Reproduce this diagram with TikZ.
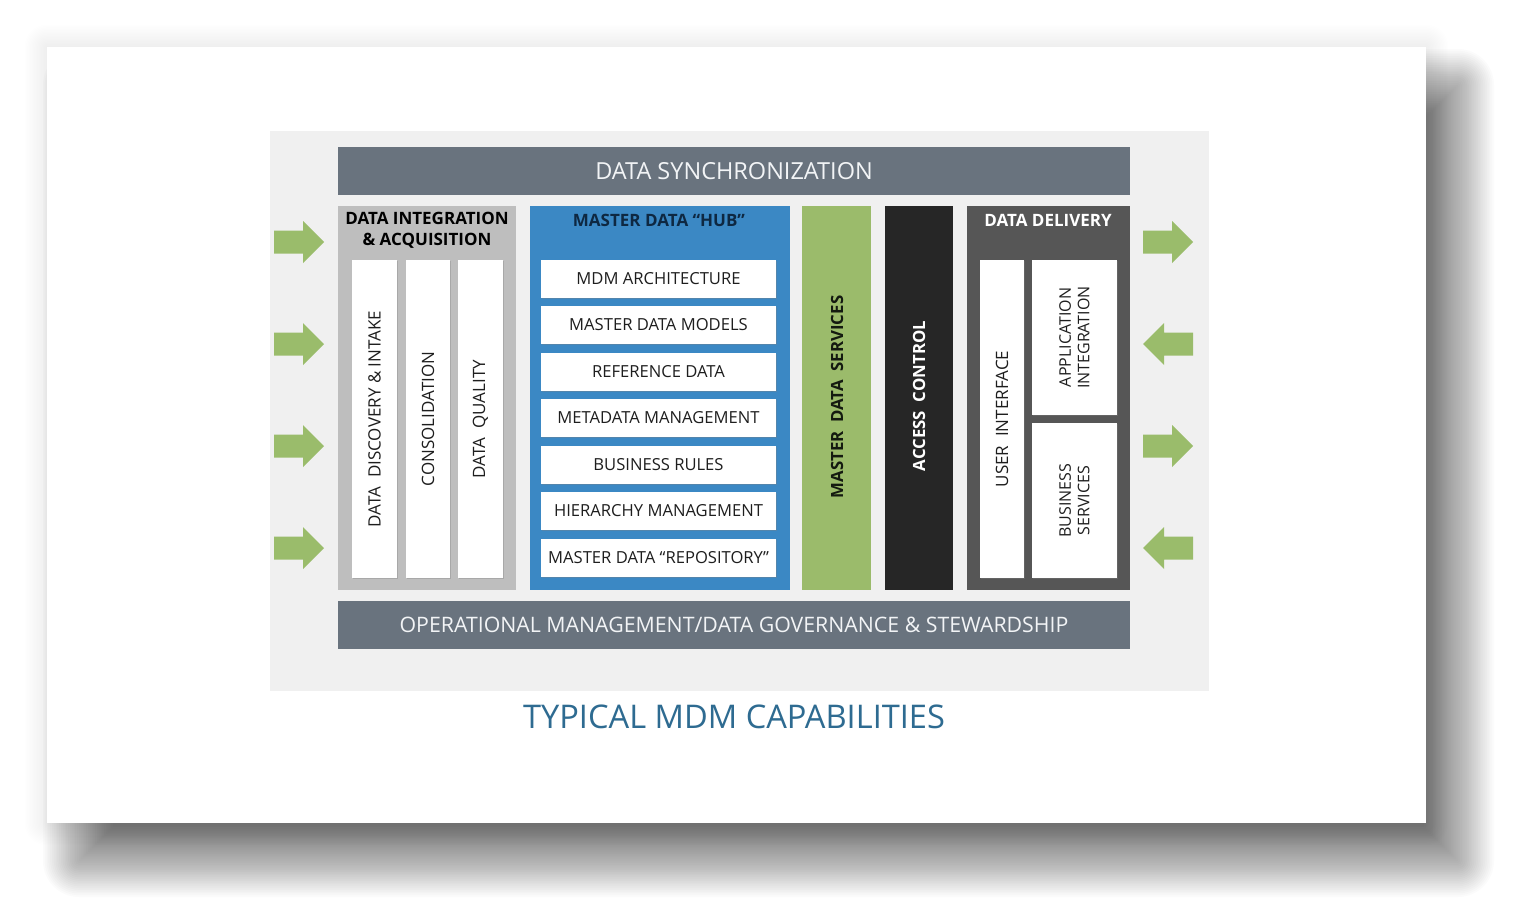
\documentclass[tikz,border=0pt]{standalone}
\usepackage{fontspec}
\setmainfont{Open Sans}
\usetikzlibrary{shadows}
\definecolor{panelbg}{HTML}{F0F0F0}
\definecolor{barcol}{HTML}{69737E}
\definecolor{diacol}{HTML}{BEBEBE}
\definecolor{hubcol}{HTML}{3B88C4}
\definecolor{hubtxt}{HTML}{0E2842}
\definecolor{mdscol}{HTML}{9BBB6B}
\definecolor{mdstxt}{HTML}{141A10}
\definecolor{accol}{HTML}{262626}
\definecolor{ddcol}{HTML}{565656}
\definecolor{arrcol}{HTML}{9ABC6B}
\definecolor{titlecol}{HTML}{2E6B91}
\definecolor{bartxt}{HTML}{F2F4F6}
\definecolor{itemtxt}{HTML}{1E1E1E}
\newcommand\mybox[7]{%
  \node[#6, anchor=north west, inner sep=0pt, outer sep=0pt,
        minimum width=#4pt-#2pt, minimum height=#5pt-#3pt] (#1) at (#2,#3) {#7};}
\newcommand\arrR[2]{%
  \fill[arrcol] (#1,#2-11.5) -- (#1+29,#2-11.5) -- (#1+29,#2-21) -- (#1+50,#2)
     -- (#1+29,#2+21) -- (#1+29,#2+11.5) -- (#1,#2+11.5) -- cycle;}
\newcommand\arrL[2]{%
  \fill[arrcol] (#1+50,#2-11.5) -- (#1+21,#2-11.5) -- (#1+21,#2-21) -- (#1,#2)
     -- (#1+21,#2+21) -- (#1+21,#2+11.5) -- (#1+50,#2+11.5) -- cycle;}
\begin{document}
\begin{tikzpicture}[x=1pt,y=-1pt,
  whitebox/.style={fill=white, drop shadow={shadow xshift=1.2pt, shadow yshift=-1.2pt, opacity=0.35}},
  itemtext/.style={font=\fontsize{16.6}{18}\selectfont, text=itemtxt},
  rottext/.style={font=\fontsize{17}{19}\selectfont, text=itemtxt, rotate=90, align=center},
  rottwo/.style={font=\fontsize{16}{18.5}\selectfont, text=itemtxt, rotate=90, align=center},
  rotbold/.style={font=\fontsize{16.8}{19}\selectfont\bfseries, rotate=90},
  headtext/.style={font=\fontsize{17}{21}\selectfont\bfseries, align=center},
  bartext/.style={text=bartxt}]
\useasboundingbox (0,0) rectangle (1521,918);
\fill[white] (0,0) rectangle (1521,918);
% faint halo round the card
\foreach \i in {1,...,16} {
  \pgfmathsetmacro{\e}{\i*1.4}
  \fill[black, fill opacity=0.004, rounded corners=\e pt]
    (47-\e,47-\e) rectangle (1426+\e,823+\e);
}
% soft drop shadow of the card
\foreach \i in {0,...,39} {
  \pgfmathsetmacro{\e}{36-\i*1.8}
  \pgfmathsetmacro{\r}{max(\e,0.5)}
  \fill[black, fill opacity=0.0165, rounded corners=\r pt]
    (47+32-\e,47+38-\e) rectangle (1426+32+\e,823+38+\e);
}
\path[fill=white] (47,47) rectangle (1426,823);
\mybox{panel}{270}{131}{1209}{691}{fill=panelbg}{}
% bars
\mybox{sync}{338}{147}{1130}{195}{fill=barcol}{}
\node[bartext, font=\fontsize{23.5}{26}\selectfont] at (sync.center) {DATA SYNCHRONIZATION};
\mybox{ops}{338}{601}{1130}{649}{fill=barcol}{}
\node[bartext, font=\fontsize{21.3}{26}\selectfont] at (ops.center) {OPERATIONAL MANAGEMENT/DATA GOVERNANCE \& STEWARDSHIP};
% data integration
\mybox{dia}{338}{206}{516}{590}{fill=diacol}{}
\node[headtext, text=black] (diat) at (427,230) {DATA INTEGRATION\\\& ACQUISITION};
\mybox{dia1}{352}{260}{397}{578}{whitebox}{}
\mybox{dia2}{406}{260}{450}{578}{whitebox}{}
\mybox{dia3}{458}{260}{503}{578}{whitebox}{}
\node[rottext] at (dia1.center) {DATA\ \ DISCOVERY \& INTAKE};
\node[rottext] at (dia2.center) {CONSOLIDATION};
\node[rottext] at (dia3.center) {DATA\ \ QUALITY};
% hub
\mybox{hub}{530}{206}{790}{590}{fill=hubcol}{}
\node[headtext, text=hubtxt] (hubt) at (659,220) {MASTER DATA “HUB”};
\mybox{h1}{541}{260}{776}{298}{whitebox}{}
\mybox{h2}{541}{306}{776}{344}{whitebox}{}
\mybox{h3}{541}{353}{776}{391}{whitebox}{}
\mybox{h4}{541}{399}{776}{437}{whitebox}{}
\mybox{h5}{541}{446}{776}{484}{whitebox}{}
\mybox{h6}{541}{492}{776}{530}{whitebox}{}
\mybox{h7}{541}{539}{776}{577}{whitebox}{}
\node[itemtext] at (h1.center) {MDM ARCHITECTURE};
\node[itemtext] at (h2.center) {MASTER DATA MODELS};
\node[itemtext] at (h3.center) {REFERENCE DATA};
\node[itemtext] at (h4.center) {METADATA MANAGEMENT};
\node[itemtext] at (h5.center) {BUSINESS RULES};
\node[itemtext] at (h6.center) {HIERARCHY MANAGEMENT};
\node[itemtext] at (h7.center) {MASTER DATA “REPOSITORY”};
% master data services
\mybox{mds}{802}{206}{871}{590}{fill=mdscol}{}
\node[rotbold, text=mdstxt] at (837,397) {MASTER\ \ DATA\ \ SERVICES};
% access control
\mybox{acc}{885}{206}{953}{590}{fill=accol}{}
\node[rotbold, text=white] at (919,396) {ACCESS\ \ CONTROL};
% data delivery
\mybox{dd}{967}{206}{1130}{590}{fill=ddcol}{}
\node[headtext, text=white] (ddt) at (1048,220) {DATA DELIVERY};
\mybox{ui}{980}{260}{1024}{578}{whitebox}{}
\mybox{ai}{1032}{260}{1117}{415}{whitebox}{}
\mybox{bs}{1032}{423}{1117}{578}{whitebox}{}
\node[rottext] at (ui.center) {USER\ \ INTERFACE};
\node[rottwo] at (ai.center) {APPLICATION\\INTEGRATION};
\node[rottwo] at (bs.center) {BUSINESS\\SERVICES};
% arrows
\arrR{274}{242}
\arrR{274}{344}
\arrR{274}{446}
\arrR{274}{548}
\arrR{1143}{242}
\arrL{1143}{344}
\arrR{1143}{446}
\arrL{1143}{548}
% title
\node[font=\fontsize{32.6}{38}\selectfont, text=titlecol] (title) at (734,717) {TYPICAL MDM CAPABILITIES};
\end{tikzpicture}
\end{document}
